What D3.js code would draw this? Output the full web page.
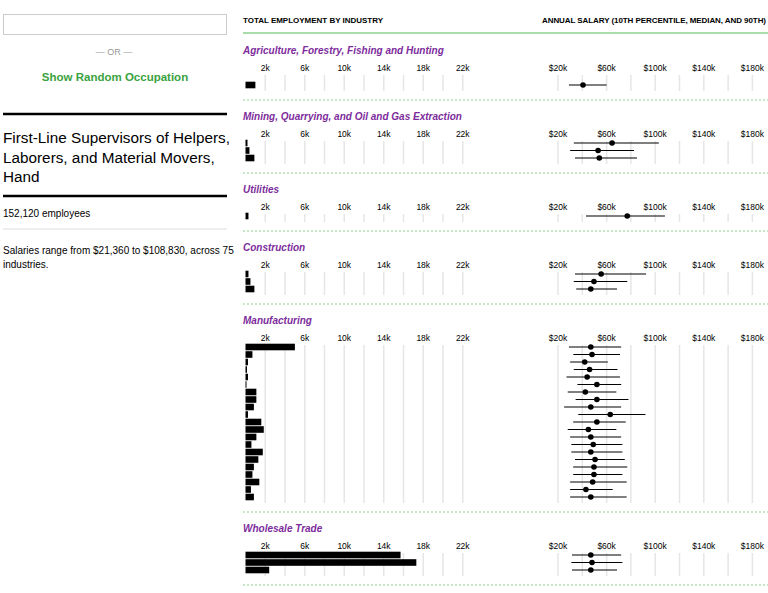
<!DOCTYPE html>
<html><head><meta charset="utf-8">
<script src="https://cdn.jsdelivr.net/npm/d3@7"></script>
<style>body{margin:0;background:#fff;font-family:"Liberation Sans",Arial,sans-serif}</style>
</head><body>
<svg id="c" width="768" height="593"></svg>
<script>
const industries = ["Agriculture, Forestry, Fishing and Hunting","Mining, Quarrying, and Oil and Gas Extraction","Utilities","Construction","Manufacturing","Wholesale Trade"];
const employment = [
  [1.0],
  [0.2,0.4,0.9],
  [0.3],
  [0.3,0.5,0.9],
  [5.0,0.7,0.25,0.15,0.25,0.05,1.1,1.1,0.85,0.25,1.6,1.85,1.1,0.6,1.75,1.3,0.85,0.7,1.4,0.55,0.85],
  [15.7,17.3,2.4]
];
const salaryLow = [
  [29],[33,30,34],[43],[34,33,35],
  [29,32.6,30,33,27,36,28,34.5,25,36.7,32.5,28,30,31,31,34,32.5,32.5,30,30,30],
  [31.5,31,31.5]
];
const salaryMedian = [
  [40.6],[64.5,53,54],[77],[55.5,49.6,47],
  [47,48,42,46,44,52,42.5,52,47,63,52,45,47,49,47,50.5,49.6,49.6,48.5,43,47],
  [47,48,47]
];
const salaryHigh = [
  [60],[103,82.6,85],[108],[92.5,77,68.6],
  [72,71,61,69,71,72,68,78,72,92,75.7,68,72,73,73,75,77,73,76.5,65,76.5],
  [72,73,68.6]
];
const empTicks = [2,6,10,14,18,22];
const salTicks = [20,60,100,140,180];

const svg = d3.select("#c");
const F = '"Liberation Sans",Arial,sans-serif';
const xE = d3.scaleLinear().domain([0,4]).range([245.5,285]);
const xS = d3.scaleLinear().domain([0,40]).range([533.7,582.3]);

// left panel
svg.append("rect").attr("x",3.5).attr("y",14.5).attr("width",223).attr("height",20).attr("fill","#fff").attr("stroke","#ccc");
svg.append("text").attr("x",114).attr("y",55).attr("text-anchor","middle").attr("font-size",9).attr("fill","#999").attr("font-family",F).text("— OR —");
svg.append("text").attr("x",115).attr("y",81).attr("text-anchor","middle").attr("font-size",11.5).attr("font-weight","bold").attr("fill","#3aa340").attr("font-family",F).text("Show Random Occupation");
svg.append("line").attr("x1",3).attr("x2",227).attr("y1",114).attr("y2",114).attr("stroke","#000").attr("stroke-width",2.5);
["First-Line Supervisors of Helpers,","Laborers, and Material Movers,","Hand"].forEach((t,i)=>
  svg.append("text").attr("x",3).attr("y",143+i*19.5).attr("font-size",15.3).attr("fill","#000").attr("font-family",F).text(t));
svg.append("line").attr("x1",3).attr("x2",227).attr("y1",196).attr("y2",196).attr("stroke","#000").attr("stroke-width",2.5);
svg.append("text").attr("x",3).attr("y",217).attr("font-size",10).attr("font-family",F).text("152,120 employees");
svg.append("line").attr("x1",3).attr("x2",227).attr("y1",229).attr("y2",229).attr("stroke","#ddd");
svg.append("text").attr("x",3).attr("y",254).attr("font-size",10).attr("font-family",F).text("Salaries range from $21,360 to $108,830, across 75");
svg.append("text").attr("x",3).attr("y",268).attr("font-size",10).attr("font-family",F).text("industries.");

// header
svg.append("text").attr("x",243).attr("y",23).attr("font-size",8).attr("font-weight","bold").attr("font-family",F).attr("textLength",140).text("TOTAL EMPLOYMENT BY INDUSTRY");
svg.append("text").attr("x",766).attr("y",23).attr("text-anchor","end").attr("font-size",8).attr("font-weight","bold").attr("font-family",F).attr("textLength",224).text("ANNUAL SALARY (10TH PERCENTILE, MEDIAN, AND 90TH)");
svg.append("line").attr("x1",243).attr("x2",768).attr("y1",33).attr("y2",33).attr("stroke","#8fd18f").attr("stroke-width",1.5);

let secTop = 34;
industries.forEach((name,i)=>{
  const g = svg.append("g");
  const n = employment[i].length;
  const r0 = secTop + 43 + (i===0?8:0);
  const rowY = j => r0 + j*7.5;
  const last = rowY(n-1);
  g.append("text").attr("x",243).attr("y",secTop+20).attr("font-size",10).attr("font-weight","bold").attr("font-style","italic").attr("fill","#7d2c9c").attr("font-family",F).text(name);
  const ty = secTop+37;
  d3.range(2,23,2).forEach(v=>g.append("line").attr("x1",xE(v)).attr("x2",xE(v)).attr("y1",ty+4).attr("y2",last+6).attr("stroke","#e6e6e6").attr("stroke-width",1.5));
  d3.range(20,181,20).forEach(v=>g.append("line").attr("x1",xS(v)).attr("x2",xS(v)).attr("y1",ty+4).attr("y2",last+6).attr("stroke","#e6e6e6").attr("stroke-width",1.5));
  empTicks.forEach(v=>g.append("text").attr("x",xE(v)).attr("y",ty).attr("text-anchor","middle").attr("font-size",8.5).attr("font-family",F).text(v+"k"));
  salTicks.forEach(v=>g.append("text").attr("x",xS(v)).attr("y",ty).attr("text-anchor","middle").attr("font-size",8.5).attr("font-family",F).text("$"+v+"k"));
  employment[i].forEach((v,j)=>{
    g.append("rect").attr("x",xE(0)).attr("y",rowY(j)-3.3).attr("width",Math.max(1,xE(v)-xE(0))).attr("height",6.6).attr("fill","#000");
    const y=rowY(j);
    g.append("line").attr("x1",xS(salaryLow[i][j])).attr("x2",xS(salaryHigh[i][j])).attr("y1",y).attr("y2",y).attr("stroke","#000").attr("stroke-width",1.2);
    g.append("circle").attr("cx",xS(salaryMedian[i][j])).attr("cy",y).attr("r",2.8).attr("fill","#000");
  });
  const sep = last+15;
  svg.append("line").attr("x1",243).attr("x2",768).attr("y1",sep).attr("y2",sep).attr("stroke","#8fd18f").attr("stroke-dasharray","2,2");
  secTop = sep;
});
</script></body></html>
